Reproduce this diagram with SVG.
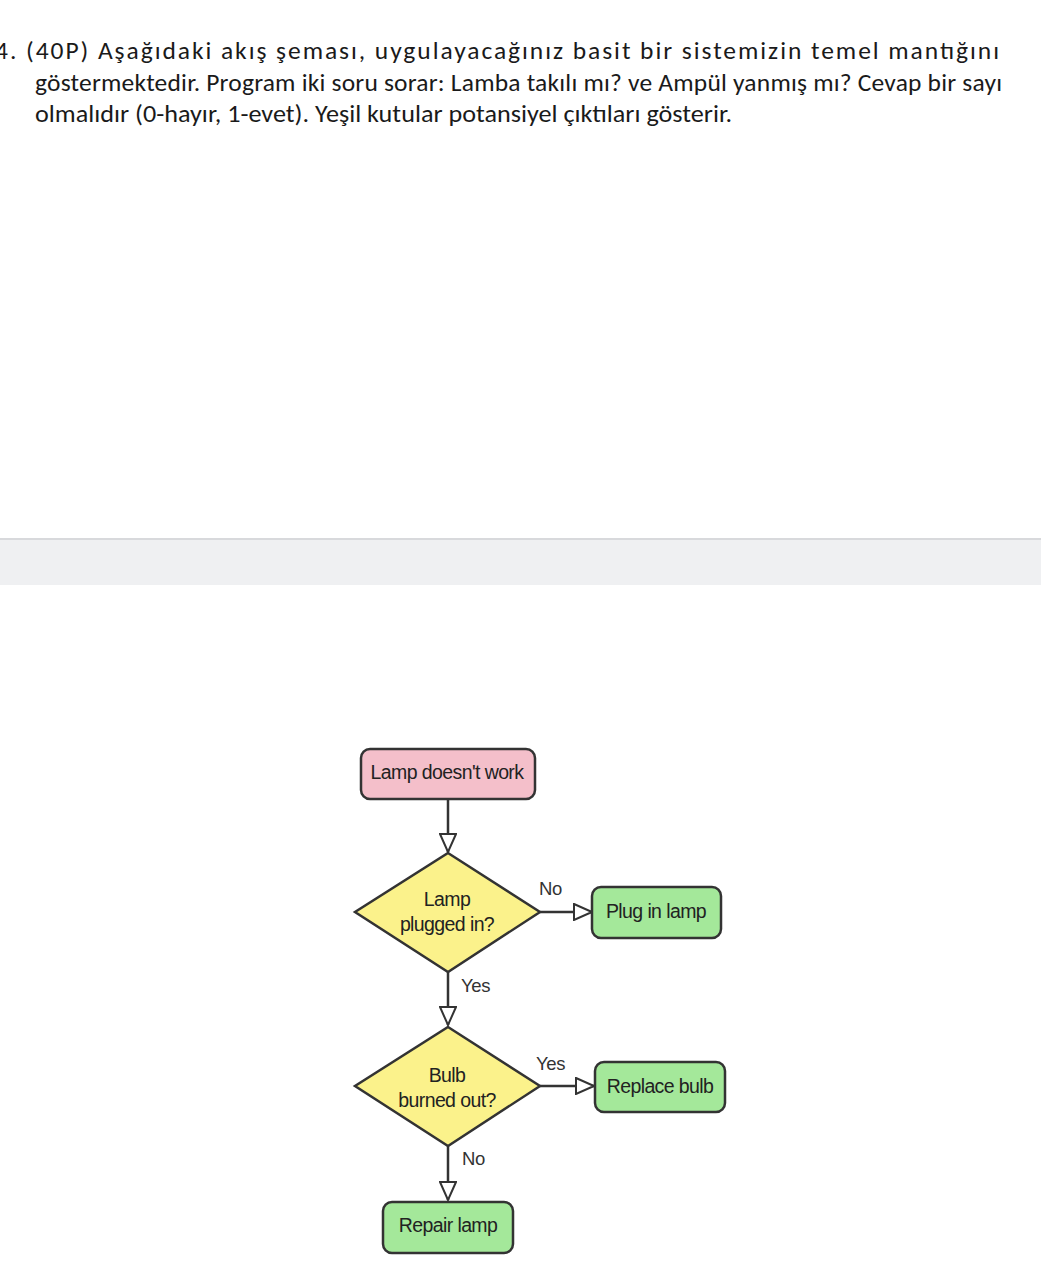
<svg xmlns="http://www.w3.org/2000/svg" width="1041" height="1278" viewBox="0 0 1041 1278">
<defs>
<marker id="ar" markerWidth="22" markerHeight="18" refX="20" refY="9" orient="auto" markerUnits="userSpaceOnUse">
<path d="M2,1 L20,9 L2,17 Z" fill="#fff" stroke="#333" stroke-width="2"/>
</marker>
</defs>
<style>
.t{font-family:Carlito,"Liberation Sans",sans-serif;font-size:25.5px;fill:#1a1a1a}
.n{font-family:"Liberation Sans",Arial,sans-serif;font-size:19.5px;fill:#222;text-anchor:middle;letter-spacing:-0.6px}
.l{font-family:"Liberation Sans",Arial,sans-serif;font-size:18.5px;fill:#333;letter-spacing:-0.3px}
.c{stroke:#333;stroke-width:2.5;fill:none}
.box{stroke:#333;stroke-width:2.5}
</style>
<rect width="1041" height="1278" fill="#fff"/>
<text class="t" x="-5" y="59" textLength="1004" lengthAdjust="spacing">4.  (40P)  Aşağıdaki  akış  şeması,  uygulayacağınız  basit  bir  sistemizin  temel  mantığını</text>
<text class="t" x="35" y="91" textLength="967" lengthAdjust="spacing">göstermektedir. Program iki soru sorar: Lamba takılı mı? ve Ampül yanmış mı? Cevap bir sayı</text>
<text class="t" x="35" y="122" textLength="697" lengthAdjust="spacingAndGlyphs">olmalıdır (0-hayır, 1-evet). Yeşil kutular potansiyel çıktıları gösterir.</text>
<rect x="0" y="538" width="1041" height="47" fill="#eff0f2"/>
<line x1="0" y1="539" x2="1041" y2="539" stroke="#d8d9dc" stroke-width="2"/>
<g id="connectors">
<path class="c" d="M448,800 V852" marker-end="url(#ar)"/>
<path class="c" d="M540,912 H592" marker-end="url(#ar)"/>
<path class="c" d="M448,972 V1025" marker-end="url(#ar)"/>
<path class="c" d="M540,1086 H594" marker-end="url(#ar)"/>
<path class="c" d="M448,1146 V1200" marker-end="url(#ar)"/>
<text class="l" x="539" y="895">No</text>
<text class="l" x="461" y="992">Yes</text>
<text class="l" x="536" y="1070">Yes</text>
<text class="l" x="462" y="1165">No</text>
</g>
<g id="start"><rect class="box" x="361" y="749" width="174" height="50" rx="9" fill="#f4bfca"/><text class="n" x="447" y="779">Lamp doesn't work</text></g>
<g id="q1"><polygon class="box" points="448,853 540,912 448,972 355,912" fill="#fbf28b"/><text class="n" x="447" y="906">Lamp</text><text class="n" x="447" y="931">plugged in?</text></g>
<g id="plug"><rect class="box" x="592" y="887" width="129" height="51" rx="9" fill="#a4e89a"/><text class="n" x="656" y="918">Plug in lamp</text></g>
<g id="q2"><polygon class="box" points="448,1027 540,1086 448,1146 355,1086" fill="#fbf28b"/><text class="n" x="447" y="1082">Bulb</text><text class="n" x="447" y="1107">burned out?</text></g>
<g id="replace"><rect class="box" x="595" y="1062" width="130" height="50" rx="9" fill="#a4e89a"/><text class="n" x="660" y="1093">Replace bulb</text></g>
<g id="repair"><rect class="box" x="383" y="1202" width="130" height="51" rx="9" fill="#a4e89a"/><text class="n" x="448" y="1232">Repair lamp</text></g>
</svg>
